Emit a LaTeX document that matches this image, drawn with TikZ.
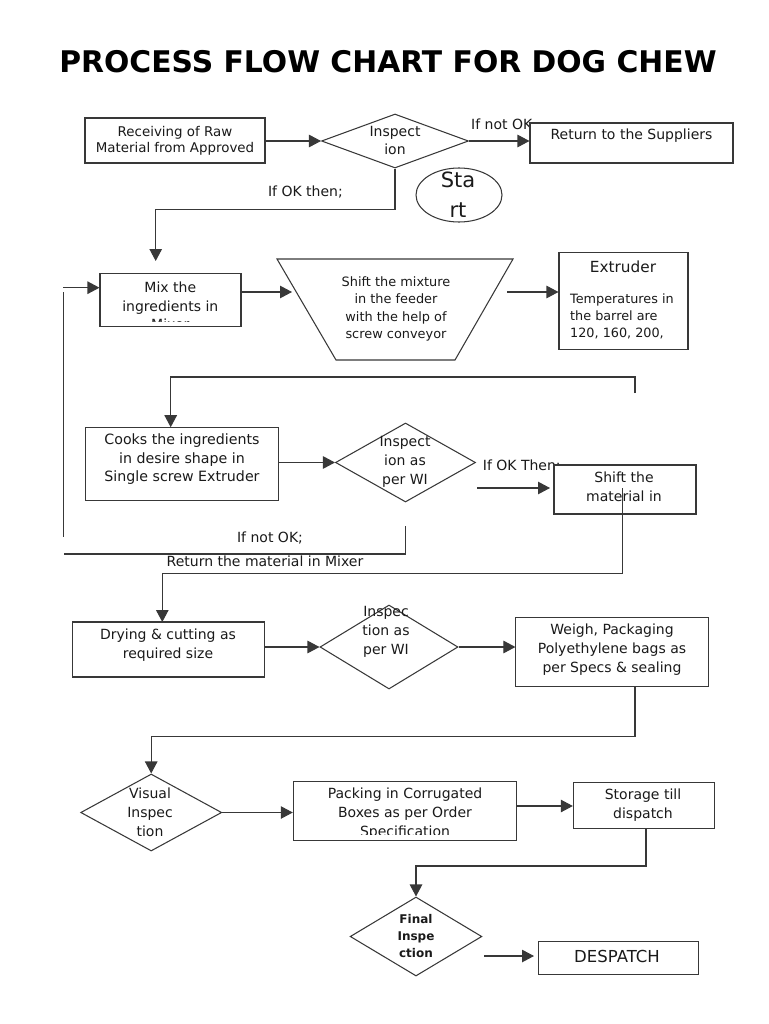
\documentclass[tikz,border=0pt]{standalone}
\usepackage{fontspec}
\setmainfont{DejaVu Sans}
\usetikzlibrary{arrows.meta,shapes.geometric,calc}
\definecolor{lncol}{HTML}{383838}
\definecolor{txcol}{HTML}{1A1A1A}
\begin{document}
\begin{tikzpicture}[x=1pt,y=-1pt,
  shp/.style={draw=lncol, line width=1.05pt, fill=white, inner sep=0pt},
  box/.style={shp, rectangle},
  dia/.style={shp, diamond},
  ln/.style={line width=1.05pt, draw=lncol},
  arr/.style={ln, -{Triangle[length=12pt,width=12.5pt]}},
  txt/.style={inner sep=0pt, align=center, text=txcol, font=\fontsize{14}{18.7}\selectfont},
  lbl/.style={inner sep=0pt, text=txcol, font=\fontsize{14}{18}\selectfont}]
\useasboundingbox[fill=white] (0,0) rectangle (768,1024);

% title
\node[inner sep=0pt, text=black, font=\fontsize{29.8}{34}\bfseries] (title) at (388,61.2) {PROCESS FLOW CHART FOR DOG CHEW};

% labels lying under boxes
\node[lbl, anchor=west] (lnotok) at (471,124.5) {If not OK};
\node[lbl, anchor=west] (lokthen2) at (482.7,466) {If OK Then;};

% row 1
\node[box, minimum width=180, minimum height=45] (recv) at (175,140.5) {};
\node[txt, font=\fontsize{13.4}{15.8}\selectfont] (recvt) at (175,140.5) {Receiving of Raw\\Material from Approved};
\node[dia, minimum width=147, minimum height=54] (d1) at (395,141) {};
\node[txt, font=\fontsize{14}{17.6}\selectfont] (d1t) at (395,140.5) {Inspect\\ion};
\node[box, minimum width=203, minimum height=40] (ret) at (631.5,143) {};
\node[txt] (rett) at (631.5,136) {Return to the Suppliers};
\node[shp, ellipse, minimum width=86, minimum height=54] (start) at (459,195) {};
\node[txt, font=\fontsize{21}{30}\selectfont] (startt) at (458,195) {Sta\\rt};
\node[lbl, anchor=east] (lokthen) at (343,192) {If OK then;};

% row 2
\node[box, minimum width=141, minimum height=53] (mix) at (170.5,300.2) {};
\begin{scope}
  \clip (100,273.7) rectangle (241,321.2);
  \node[txt, font=\fontsize{14}{18.3}\selectfont] (mixt) at (170.3,306) {Mix the\\ingredients in\\Mixer};
\end{scope}
\draw[shp] (277,259) coordinate (trapA) -- (513,259) coordinate (trapB) -- (455,360) coordinate (trapC) -- (336,360) coordinate (trapD) -- cycle;
\coordinate (trap) at (395,309.5);
\node[txt, font=\fontsize{12.9}{17.4}\selectfont] (trapt) at (396,309) {Shift the mixture\\in the feeder\\with the help of\\screw conveyor};
\node[box, minimum width=129, minimum height=97] (ext) at (623.5,301.3) {};
\node[txt, font=\fontsize{15.3}{18}\selectfont] (extt) at (623,266.7) {Extruder};
\node[txt, align=left, anchor=west, font=\fontsize{12.8}{17}\selectfont] (extb) at (570,316) {Temperatures in\\the barrel are\\120, 160, 200,};

% row 3
\node[box, minimum width=193, minimum height=72.3] (cooks) at (181.8,463.9) {};
\node[txt, font=\fontsize{14.2}{18.5}\selectfont] (cookst) at (182,459.5) {Cooks the ingredients\\in desire shape in\\Single screw Extruder};
\node[dia, minimum width=140, minimum height=79] (d2) at (405.5,462.5) {};
\node[txt, font=\fontsize{14}{19}\selectfont] (d2t) at (405,462) {Inspect\\ion as\\per WI};
\node[box, minimum width=142, minimum height=49] (shift) at (625,489.5) {};
\node[txt, font=\fontsize{14}{19}\selectfont] (shiftt) at (624,487.2) {Shift the\\material in};
\node[lbl] (notok) at (270,538) {If not OK;};
\node[lbl] (retmix) at (265,561.7) {Return the material in Mixer};

% row 4
\node[box, minimum width=191.3, minimum height=55] (dry) at (168.4,649.5) {};
\node[txt, font=\fontsize{14}{19}\selectfont] (dryt) at (168,645.5) {Drying \& cutting as\\required size};
\node[dia, minimum width=138, minimum height=84] (d3) at (389,647) {};
\node[txt, font=\fontsize{14}{19}\selectfont] (d3t) at (386,632) {Inspec\\tion as\\per WI};
\node[box, minimum width=192.7, minimum height=68.3] (weigh) at (612.3,651.9) {};
\node[txt, font=\fontsize{14}{18.8}\selectfont] (weight) at (612,649.5) {Weigh, Packaging\\Polyethylene bags as\\per Specs \& sealing};

% row 5
\node[dia, minimum width=141, minimum height=77] (d4) at (151.2,812.5) {};
\node[txt, font=\fontsize{14}{19}\selectfont] (d4t) at (150,812) {Visual\\Inspec\\tion};
\node[box, minimum width=223.4, minimum height=58.5] (pack) at (405,811.2) {};
\begin{scope}
  \clip (293.3,782) rectangle (516.7,834.5);
  \node[txt, font=\fontsize{14}{19}\selectfont] (packt) at (405,814) {Packing in Corrugated\\Boxes as per Order\\Specification};
\end{scope}
\node[box, minimum width=140.7, minimum height=46] (stor) at (643.7,805.3) {};
\node[txt, font=\fontsize{14}{18.3}\selectfont] (stort) at (643,805) {Storage till\\dispatch};

% row 6
\node[dia, minimum width=131.7, minimum height=79] (d5) at (416,936.5) {};
\node[txt, font=\fontsize{12}{17}\bfseries] (d5t) at (416,936.5) {Final\\Inspe\\ction};
\node[box, minimum width=160, minimum height=32.3] (desp) at (618.3,957.9) {};
\node[txt, font=\fontsize{16.5}{18}\selectfont] (despt) at (617,956) {DESPATCH};

% free ends of connectors
\coordinate (k1) at (155.7,261);
\coordinate (lp1) at (63.3,287.7);
\coordinate (lp2) at (63.3,292);
\coordinate (lp3) at (63.3,537);
\coordinate (mt) at (292,292);
\coordinate (ts) at (507,292);
\coordinate (tk) at (635,393);
\coordinate (s2a) at (477,488);
\coordinate (s2b) at (550,488);
\coordinate (sv) at (622.7,488);
\coordinate (dk) at (162.3,622);
\coordinate (r1) at (405.7,526);
\coordinate (r2) at (63.5,554);
\coordinate (ps) at (516.7,806);
\coordinate (sd) at (646,828.3);
\coordinate (dd) at (484,956);
\coordinate (de) at (534,956);

% connectors
\draw[arr] (recv.east |- d1.west) -- (d1.west);
\draw[arr] (d1.east) -- (d1.east -| ret.west);
\draw[arr] (d1.south) -- ++(0,41) -| (k1);
\draw[arr] (lp1) -- (lp1 -| mix.west);
\draw[ln] (lp2) -- (lp3);
\draw[arr] (mix.east |- mt) -- (mt);
\draw[arr] (ts) -- (ts -| ext.west);
\draw[arr] (tk) -- ++(0,-16) -| ($(cooks.north)+(-11.1,0)$);
\draw[arr] (cooks.east |- d2.west) -- (d2.west);
\draw[arr] (s2a) -- (s2b);
\draw[arr] (sv) -- ++(0,85.5) -| (dk);
\draw[ln] (r1) |- (r2);
\draw[arr] (dry.east |- d3.west) -- (d3.west);
\draw[arr] (d3.east) -- (d3.east -| weigh.west);
\draw[arr] ($(weigh.south)+(22.7,0)$) -- ++(0,49.5) -| (d4.north);
\draw[arr] (d4.east) -- (d4.east -| pack.west);
\draw[arr] (ps) -- (ps -| stor.west);
\draw[arr] (sd) -- ++(0,37.7) -| (d5.north);
\draw[arr] (dd) -- (de);
\end{tikzpicture}
\end{document}
